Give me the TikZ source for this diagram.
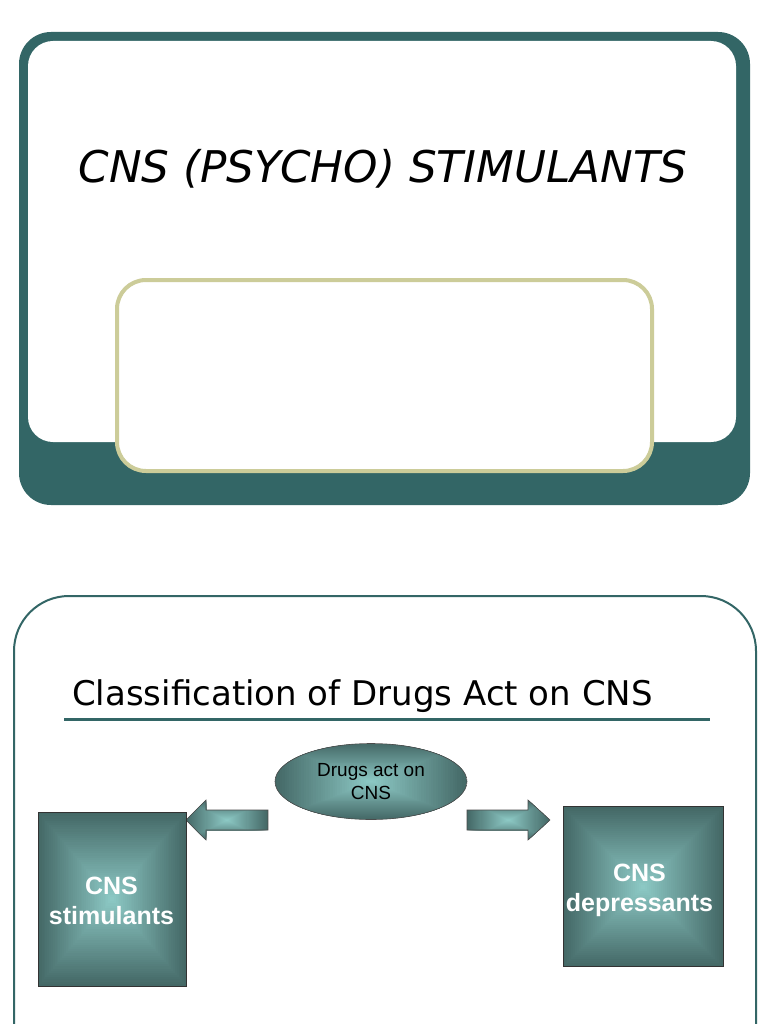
\documentclass[tikz,border=0pt]{standalone}
\usepackage{fontspec}
\setmainfont{DejaVu Sans}
\newfontfamily\arialfont{Liberation Sans}
\usetikzlibrary{shapes.geometric,calc}
\definecolor{teal1}{HTML}{336666}
\definecolor{beige1}{HTML}{CCCC99}
\definecolor{gedge}{HTML}{446866}
\definecolor{gmid}{HTML}{8CC8C4}
\tikzset{
  rectgrad/.style={
    path picture={
      \foreach \k in {0,...,39}{
        \pgfmathsetmacro\tt{\k/40}
        \pgfmathsetmacro\pp{100*\k/39}
        \fill[gmid!\pp!gedge] ($(path picture bounding box.north west)!\tt!(path picture bounding box.center)$) rectangle ($(path picture bounding box.south east)!\tt!(path picture bounding box.center)$);
      }
    }},
  gradbox/.style={rectangle, draw=black!80, line width=0.8pt, rectgrad},
  boxtext/.style={text=white, align=center, font=\arialfont\bfseries\fontsize{25}{30}\selectfont},
  blockarrow/.style={draw=black!70, line width=0.6pt, rectgrad},
  srcellipse/.style={ellipse, draw=black!70, line width=0.6pt, rectgrad,
    minimum width=192pt, minimum height=76pt, align=center, text=black,
    font=\arialfont\fontsize{19}{23}\selectfont}
}
\begin{document}
\begin{tikzpicture}[x=1pt,y=-1pt]
\useasboundingbox (0,0) rectangle (768,1024);
\fill[white] (0,0) rectangle (768,1024);
% slide 1
\fill[teal1, rounded corners=32pt] (19,32) rectangle (750,505);
\fill[white, rounded corners=25pt] (28,41) rectangle (736,442);
\draw[beige1, line width=4pt, fill=white, rounded corners=29pt] (117,280) rectangle (652,471);
\node (t1) at (383,168.5) {\fontsize{43.7}{50}\selectfont\itshape CNS (PSYCHO) STIMULANTS};
% slide 2
\draw[teal1, line width=2pt, rounded corners=55pt] (14,1040) -- (14,596) -- (756,596) -- (756,1040);
\node[anchor=base west, inner sep=0pt] (t2) at (72,705) {\fontsize{34}{40}\selectfont Classification of Drugs Act on CNS};
\draw[teal1, line width=3pt] (64,719) -- (710,719);
\node[srcellipse] (src) at (371,781.5) {Drugs act on\\CNS};
\draw[blockarrow] (186,820) -- (206,800) -- (206,810) -- (268,810) -- (268,830) -- (206,830) -- (206,840) -- cycle;
\draw[blockarrow] (550,820) -- (528,800) -- (528,810) -- (467,810) -- (467,830) -- (528,830) -- (528,840) -- cycle;
\node[gradbox, minimum width=148pt, minimum height=174pt] (stim) at (112,899) {};
\node[boxtext] (stimtext) at (111.5,900.5) {CNS\\stimulants};
\node[gradbox, minimum width=160pt, minimum height=160pt] (dep) at (643,886.5) {};
\node[boxtext] (deptext) at (639.5,890.5) {CNS\\depressants};
\end{tikzpicture}
\end{document}
